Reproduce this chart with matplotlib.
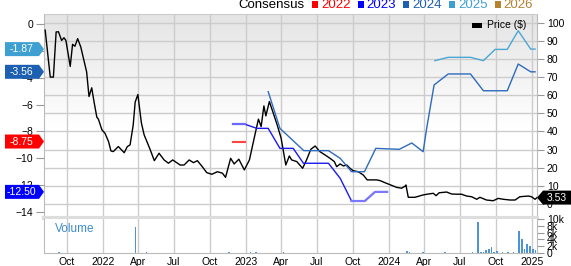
import numpy as np
import pandas as pd
import matplotlib
matplotlib.use('Agg')
import matplotlib.pyplot as plt
from matplotlib.patches import Polygon, Rectangle
from matplotlib.transforms import IdentityTransform

plt.rcParams['font.family'] = ['Liberation Sans', 'DejaVu Sans']

# price ($), right axis
price_dates = [
    '2021-08-06', '2021-08-19', '2021-08-27', '2021-09-03', '2021-09-09', '2021-09-17',
    '2021-09-23', '2021-09-28', '2021-10-09', '2021-10-15', '2021-10-21', '2021-10-28',
    '2021-11-05', '2021-11-16', '2021-11-20', '2021-11-26', '2021-12-03', '2021-12-09',
    '2021-12-16', '2021-12-20', '2021-12-29', '2022-01-06', '2022-01-15', '2022-01-21',
    '2022-01-27', '2022-02-09', '2022-02-24', '2022-03-04', '2022-03-11', '2022-03-19',
    '2022-03-24', '2022-03-31', '2022-04-06', '2022-04-09', '2022-04-16', '2022-05-01',
    '2022-05-12', '2022-05-24', '2022-06-06', '2022-06-17', '2022-06-28', '2022-07-17',
    '2022-07-27', '2022-08-09', '2022-08-20', '2022-08-30', '2022-09-10', '2022-09-23',
    '2022-10-06', '2022-10-20', '2022-11-02', '2022-11-10', '2022-11-23', '2022-12-02',
    '2022-12-14', '2022-12-28', '2023-01-10', '2023-01-24', '2023-02-02', '2023-02-09',
    '2023-02-16', '2023-02-21', '2023-03-02', '2023-03-12', '2023-03-22', '2023-04-01',
    '2023-04-13', '2023-04-22', '2023-04-28', '2023-05-11', '2023-05-26', '2023-06-05',
    '2023-06-16', '2023-06-27', '2023-07-09', '2023-07-22', '2023-08-04', '2023-08-15',
    '2023-08-21', '2023-08-30', '2023-09-07', '2023-09-16', '2023-09-24', '2023-10-02',
    '2023-10-15', '2023-10-28', '2023-11-07', '2023-11-18', '2023-12-01', '2023-12-10',
    '2023-12-22', '2024-01-06', '2024-01-21', '2024-02-03', '2024-02-12', '2024-02-14',
    '2024-02-20', '2024-03-08', '2024-03-29', '2024-04-11', '2024-04-24', '2024-05-01',
    '2024-05-09', '2024-05-28', '2024-06-10', '2024-06-23', '2024-07-05', '2024-07-18',
    '2024-07-31', '2024-08-13', '2024-08-21', '2024-09-07', '2024-09-24', '2024-10-07',
    '2024-10-20', '2024-11-06', '2024-11-19', '2024-12-01', '2024-12-23', '2024-12-31',
    '2025-01-09', '2025-01-14',
]
price_values = [
    95.9, 70.0, 70.0, 94.9, 95.0, 90.2,
    91.7, 90.2, 75.9, 88.1, 87.0, 91.2,
    86.6, 76.5, 72.8, 59.3, 64.1, 56.2,
    47.9, 46.8, 40.9, 39.0, 34.4, 29.3,
    28.9, 31.7, 28.3, 31.7, 32.6, 43.6,
    56.2, 60.4, 49.7, 44.6, 38.1, 30.2,
    23.9, 28.0, 24.3, 22.5, 24.3, 21.5,
    21.5, 24.3, 22.8, 23.9, 21.0, 17.3,
    16.4, 17.8, 17.0, 14.7, 25.2, 22.1,
    24.7, 18.8, 24.3, 38.1, 46.8, 42.7,
    54.1, 48.6, 56.5, 50.1, 43.6, 36.3,
    21.5, 26.5, 24.3, 23.4, 19.7, 24.3,
    30.2, 32.0, 28.9, 27.1, 25.2, 23.4,
    20.6, 22.1, 21.0, 21.5, 19.7, 18.4,
    17.8, 16.0, 13.3, 13.3, 13.3, 12.9,
    11.8, 10.5, 9.2, 8.7, 9.9, 10.5,
    3.7, 3.7, 5.0, 5.5, 5.9, 4.6,
    6.2, 6.6, 5.5, 5.4, 5.4, 4.4,
    4.0, 2.6, 3.7, 2.2, 1.8, 3.1,
    2.6, 2.2, 2.2, 4.0, 4.4, 4.0,
    2.6, 3.53,
]

# consensus EPS estimates, left axis
fy2022_dates = ['2022-11-30', '2022-12-30']
fy2022_eps = [-8.75, -8.75]

fy2023_dates = ['2022-11-30', '2022-12-30', '2023-01-29', '2023-02-27', '2023-03-29',
                '2023-05-02', '2023-05-28', '2023-07-31', '2023-08-30', '2023-09-28',
                '2023-11-01', '2023-11-27', '2023-12-28']
fy2023_eps = [-7.47, -7.47, -7.77, -7.77, -9.26,
              -9.26, -10.37, -10.37, -11.49, -13.18,
              -13.18, -12.50, -12.50]

fy2024_dates = ['2023-02-27', '2023-03-29', '2023-05-29', '2023-07-31', '2023-08-30',
                '2023-09-28', '2023-10-31', '2023-11-29', '2024-01-28', '2024-02-29',
                '2024-03-29', '2024-04-07', '2024-04-26', '2024-06-01', '2024-07-28',
                '2024-08-30', '2024-10-30', '2024-11-27', '2024-12-29', '2025-01-09']
fy2024_eps = [-5.04, -7.77, -9.43, -9.43, -10.0,
              -11.0, -11.0, -9.26, -9.33, -8.86,
              -9.51, -7.77, -4.54, -3.72, -3.72,
              -4.97, -4.97, -2.98, -3.56, -3.56]

fy2025_dates = ['2024-04-28', '2024-06-01', '2024-07-28', '2024-08-30', '2024-09-29',
                '2024-10-30', '2024-11-27', '2024-12-29', '2025-01-09']
fy2025_eps = [-2.73, -2.48, -2.48, -2.73, -1.89,
              -1.89, -0.50, -1.87, -1.87]

# weekly volume
vol_dates = [
    '2021-08-13', '2021-09-10', '2021-10-08', '2021-11-05', '2021-12-03', '2022-01-14',
    '2022-02-11', '2022-03-11', '2022-03-25', '2022-04-22', '2022-05-20', '2022-06-17',
    '2022-07-15', '2022-08-12', '2022-09-09', '2022-10-07', '2022-11-18', '2022-12-16',
    '2023-01-13', '2023-01-27', '2023-02-24', '2023-03-24', '2023-04-07', '2023-05-05',
    '2023-06-02', '2023-06-30', '2023-07-28', '2023-08-25', '2023-09-22', '2023-10-20',
    '2023-11-17', '2023-12-15', '2024-01-12', '2024-02-16', '2024-02-23', '2024-03-29',
    '2024-04-26', '2024-05-24', '2024-06-21', '2024-07-19', '2024-08-02', '2024-08-16',
    '2024-08-23', '2024-08-30', '2024-09-06', '2024-09-13', '2024-09-20', '2024-09-27',
    '2024-10-04', '2024-10-18', '2024-11-01', '2024-11-15', '2024-11-29', '2024-12-06',
    '2024-12-13', '2024-12-20', '2024-12-27', '2025-01-03', '2025-01-10',
]
vol_values = [
    100, 250, 100, 80, 60, 80,
    60, 120, 7700, 150, 80, 60,
    60, 50, 60, 50, 300, 80,
    250, 150, 100, 100, 200, 80,
    60, 50, 80, 60, 50, 60,
    50, 60, 80, 450, 350, 250,
    100, 150, 100, 80, 150, 9200,
    400, 300, 900, 1100, 1800, 300,
    450, 200, 150, 200, 6400, 4200,
    1300, 2600, 2100, 1300, 1000,
]

quarters = ['2021-10-01', '2022-01-01', '2022-04-01', '2022-07-01', '2022-10-01',
            '2023-01-01', '2023-04-01', '2023-07-01', '2023-10-01', '2024-01-01',
            '2024-04-01', '2024-07-01', '2024-10-01', '2025-01-01']
quarter_labels = ['Oct', '2022', 'Apr', 'Jul', 'Oct', '2023', 'Apr', 'Jul', 'Oct',
                  '2024', 'Apr', 'Jul', 'Oct', '2025']

W, H = 571, 266
fig = plt.figure(figsize=(W / 100, H / 100), dpi=100)


def fx(px):
    return px / W


def fy(py):
    return 1 - py / H


grid_c = '#cccccc'
x0, x1 = pd.Timestamp('2021-08-03'), pd.Timestamp('2025-01-14')
qd = pd.to_datetime(quarters)

# main panel: price axis (right) with grid, eps twin (left)
ax = fig.add_axes([fx(44), fy(218), 493 / W, 204 / H])
ax.set_xlim(x0, x1)
ax.set_ylim(-7.72, 104.8)
grad = np.ones((200, 1, 3))
shade = np.clip(0.895 + np.linspace(0, 1, 200) * 0.19, 0, 1)
grad[:, 0, :] = shade[:, None]
ax.imshow(grad, extent=[0, 1, 0, 1], transform=ax.transAxes, aspect='auto', zorder=0)
ax.set_xticks(qd)
ax.set_yticks(np.arange(0, 101, 10))
ax.grid(True, color=grid_c, lw=1)
ax.set_axisbelow(True)
for s in ['left', 'right']:
    ax.spines[s].set_color('#bbbbbb')
ax.spines['top'].set_color(grid_c)
ax.spines['bottom'].set_color('#dddddd')
ax.spines['bottom'].set_linewidth(3)

ax.plot(pd.to_datetime(price_dates), price_values, color='black', lw=1, zorder=3)

ax2 = ax.twinx()
ax2.set_ylim(-14.445, 0.745)
ax2.set_yticks(np.arange(0, -15, -2))
ax2.yaxis.tick_left()
ax2.tick_params(axis='y', length=6, color='#999999', labelsize=7.5, pad=2)
for s in ax2.spines.values():
    s.set_visible(False)

ax.yaxis.tick_right()
ax.tick_params(axis='y', length=5, color='#999999', labelsize=7.5, pad=2)
ax.tick_params(axis='x', length=0, labelbottom=False)
ax2.tick_params(axis='x', length=0, labelbottom=False)

d22 = pd.to_datetime(fy2022_dates)
d23 = pd.to_datetime(fy2023_dates)
ax2.plot(d22, fy2022_eps, color='#ff4444', lw=1.5)
ax2.plot(d23, fy2023_eps, color='#1a1aee', lw=1)
ax2.plot(d23[:2], fy2023_eps[:2], color='#6a6aff', lw=1.6)
ax2.plot(d23[9:], fy2023_eps[9:], color='#7a7aff', lw=1.6)
ax2.plot(pd.to_datetime(fy2024_dates), fy2024_eps, color='#2e6bbd', lw=1)
ax2.plot(pd.to_datetime(fy2025_dates), fy2025_eps, color='#4aa6d6', lw=1)

# volume panel
axv = fig.add_axes([fx(44), fy(253), 493 / W, 34 / H])
axv.set_xlim(x0, x1)
axv.set_ylim(0, 10000)
axv.bar(pd.to_datetime(vol_dates), vol_values, width=4.5, color='#4d94d6', zorder=2)
axv.set_xticks(qd)
axv.set_xticklabels(quarter_labels)
axv.set_yticks([0, 2000, 4000, 6000, 8000, 10000])
axv.set_yticklabels(['0', '2k', '4k', '6k', '8k', '10k'])
axv.yaxis.tick_right()
axv.tick_params(axis='y', length=5, color='#999999', labelsize=7.5, pad=2)
axv.tick_params(axis='x', length=0, labelsize=7.5, pad=3)
axv.grid(True, axis='x', color=grid_c, lw=1)
axv.set_axisbelow(True)
axv.spines['top'].set_visible(False)
for s in ['left', 'right', 'bottom']:
    axv.spines[s].set_color('#bbbbbb')
axv.text(fx(55 - 44) / (493 / W), 0.7, 'Volume', transform=axv.transAxes,
         color='#3c8ccc', fontsize=8.5, va='center')

# header legend
fig.text(fx(238), fy(8.3), 'Consensus', fontsize=9.5, va='baseline', ha='left')
leg_names = ['2022', '2023', '2024', '2025', '2026']
leg_colors = ['#ff0000', '#0000ff', '#1d5fb0', '#3ea0d2', '#b5822f']
for i, (nm, c) in enumerate(zip(leg_names, leg_colors)):
    sx = 312 + 45.7 * i
    fig.add_artist(Rectangle((fx(sx), fy(7.5)), 6 / W, 6.5 / H, transform=fig.transFigure,
                             facecolor=c, edgecolor='none'))
    fig.text(fx(sx + 9), fy(8.3), nm, fontsize=9.5, color=c, va='baseline', ha='left')

# price legend
fig.add_artist(Rectangle((fx(472), fy(27.5)), 10 / W, 4.5 / H, transform=fig.transFigure,
                         facecolor='black', edgecolor='none'))
fig.text(fx(487), fy(25.5), 'Price ($)', fontsize=7.5, va='center', ha='left')

# value tags
left_tags = [(-1.87, '#3ea0d2'), (-3.56, '#1d5fb0'), (-8.75, '#ff0000'), (-12.50, '#0000ff')]
for val, c in left_tags:
    yc = ax2.transData.transform((0, val))[1]
    pts = [(5, yc - 7), (39, yc - 7), (44, yc), (39, yc + 7), (5, yc + 7)]
    fig.add_artist(Polygon(pts, closed=True, transform=IdentityTransform(),
                           facecolor=c, edgecolor='none', zorder=10))
    fig.text(fx(21.5), yc / H, '%.2f' % val, color='white', fontsize=7.5,
             ha='center', va='center', zorder=11)

yc = ax.transData.transform((0, price_values[-1]))[1]
pts = [(537, yc), (543, yc + 7), (571, yc + 7), (571, yc - 7), (543, yc - 7)]
fig.add_artist(Polygon(pts, closed=True, transform=IdentityTransform(),
                       facecolor='black', edgecolor='none', zorder=10))
fig.text(fx(556.5), yc / H, '%.2f' % price_values[-1], color='white', fontsize=7.5,
         ha='center', va='center', zorder=11)

fig.savefig('out.png', dpi=100)
